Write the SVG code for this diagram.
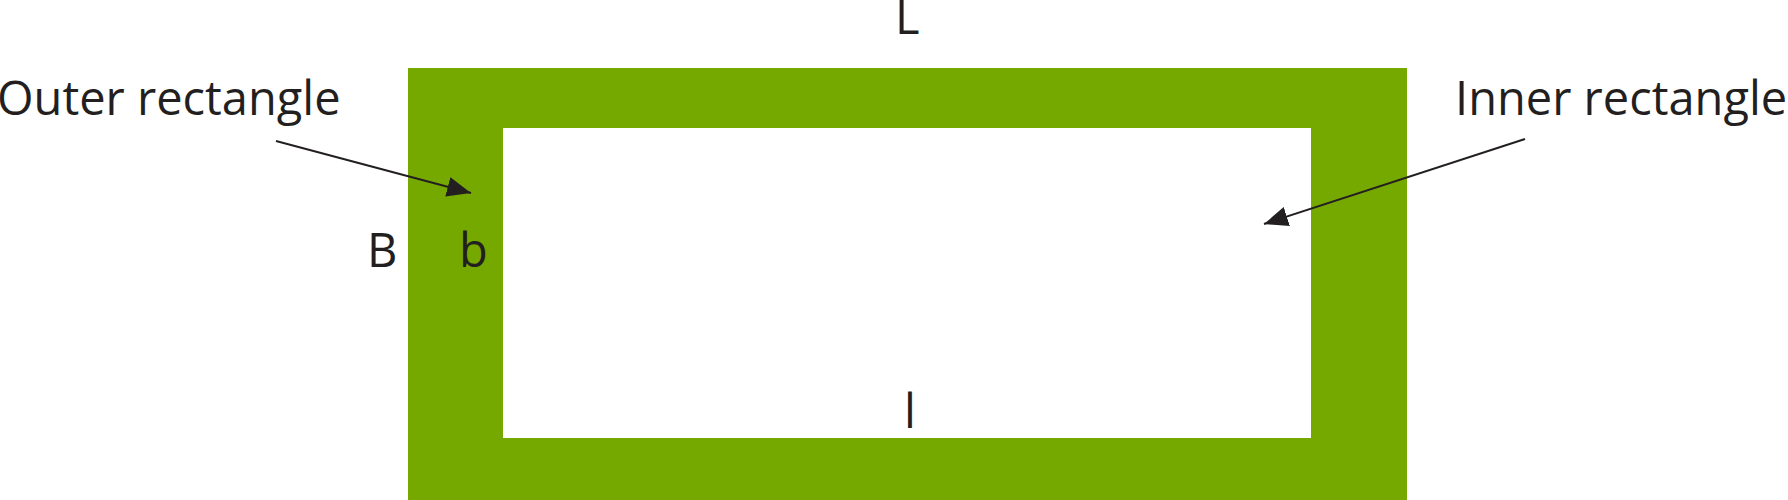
<svg xmlns="http://www.w3.org/2000/svg" width="1788" height="500" viewBox="0 0 1788 500">
<style>
.lbl{font-family:"Open Sans","Noto Sans",sans-serif;font-size:47px;fill:#231f20}
.conn{stroke:#231f20;stroke-width:2;fill:none}
</style>
<defs>
<marker id="ah" markerUnits="userSpaceOnUse" markerWidth="25" markerHeight="20" refX="24" refY="10" orient="auto">
<path d="M0,0 L24,10 L0,20 z" fill="#231f20"/>
</marker>
</defs>
<rect width="1788" height="500" fill="#ffffff"/>
<g id="outer-rectangle">
<rect x="408" y="68" width="999" height="432" fill="#76a900"/>
</g>
<g id="inner-rectangle">
<rect x="503" y="128" width="808" height="310" fill="#ffffff"/>
</g>
<g id="labels">
<text class="lbl" x="895" y="34">L</text>
<text class="lbl" x="904" y="428">l</text>
<text class="lbl" x="367" y="267">B</text>
<text class="lbl" x="459" y="267">b</text>
<text class="lbl" x="-3" y="115">Outer rectangle</text>
<text class="lbl" x="1455" y="115">Inner rectangle</text>
</g>
<g id="connectors">
<line class="conn" x1="276" y1="141" x2="471" y2="193" marker-end="url(#ah)"/>
<line class="conn" x1="1525" y1="139" x2="1264" y2="224" marker-end="url(#ah)"/>
</g>
</svg>
